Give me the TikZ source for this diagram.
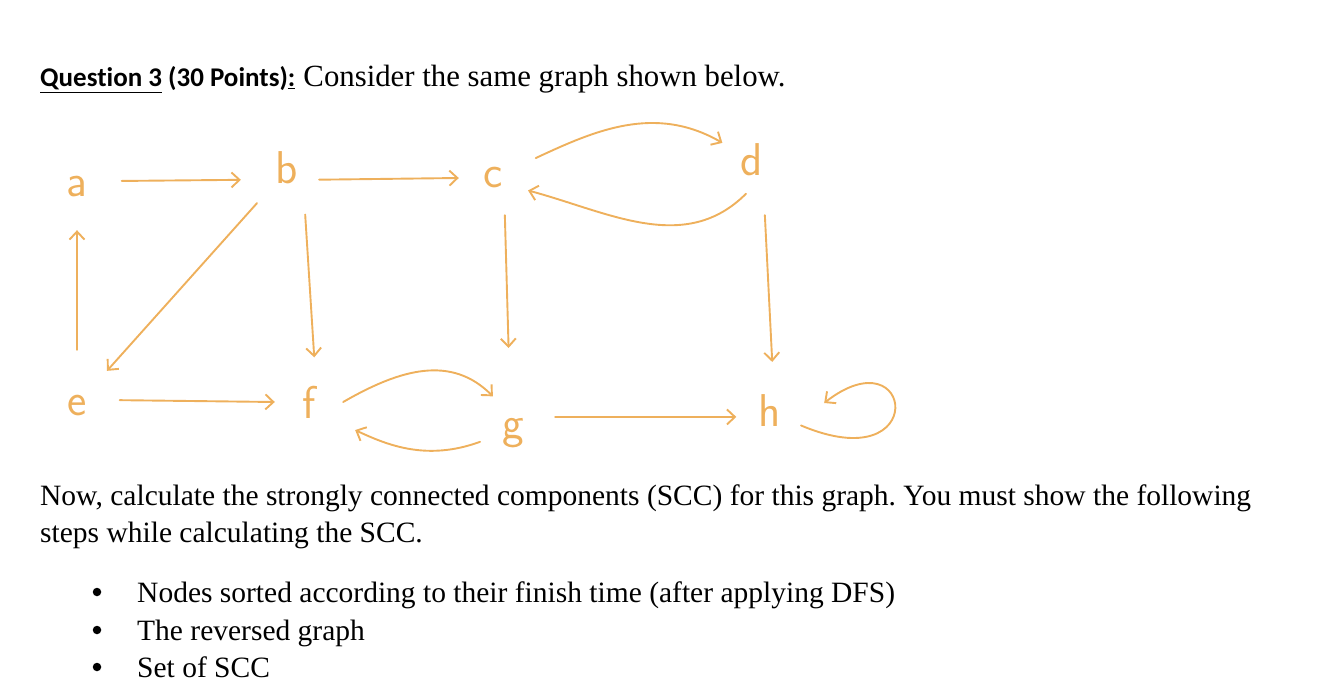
\documentclass[tikz,border=0pt]{standalone}
\usepackage{fontspec}
\setmainfont{Liberation Serif}
\newfontfamily\titlefont[Ligatures=NoCommon]{Carlito}
\usetikzlibrary{arrows.meta}
\definecolor{pen}{RGB}{238,176,92}
\frenchspacing

\begin{document}
\begin{tikzpicture}[x=1pt,y=1pt,
  letter/.style={circle,inner sep=0pt,minimum size=68pt,text=pen,
    font=\sffamily\fontsize{46}{46}\selectfont},
  stroke/.style={draw=pen,line width=1.9pt,line cap=round,
    -{Straight Barb[length=8pt,width=15pt]}},
  body/.style={anchor=base west,inner sep=0pt,font=\fontsize{29.5}{37}\selectfont},
  dot/.style={circle,fill=black,inner sep=0pt,minimum size=8.5pt}]
\useasboundingbox (0,0) rectangle (1320,-692);
% heading
\node[body,font=\titlefont\bfseries\fontsize{27}{32}\selectfont] (head) at (40,-87)
  {\underline{Question 3} (30 Points)\underline{:}};
\node[body,font=\fontsize{30.8}{37}\selectfont] (ask) at (head.base east) {\ Consider the same graph shown below.};
% letters
\node[letter] (a) at (77,-187) {a};
\node[letter] (b) at (287,-168) {b};
\node[letter] (c) at (493,-178) {c};
\node[letter] (d) at (752,-160) {d};
\node[letter] (e) at (77,-406) {e};
\node[letter] (f) at (309,-402) {f};
\node[letter] (g) at (513,-433) {g};
\node[letter] (h) at (770,-411) {h};
% edges
\draw[stroke,shorten <=11pt,shorten >=14pt] (a.10) -- (b.200);
\draw[stroke] (b.-20) -- (c.west);
\draw[stroke,shorten <=22pt,shorten >=9pt] (e.north) -- (a.south);
\draw[stroke,shorten <=12pt,shorten >=12pt] (b.230) -- (e.50);
\draw[stroke,shorten <=17pt,shorten >=11pt] (b.-60) -- (f.80);
\draw[stroke,shorten <=9pt] (e.10) -- (f.west);
\draw[stroke,shorten >=8pt] (f.east) to[out=30,in=135,looseness=1.1] (g.115);
\draw[stroke,shorten >=20pt] (g.195) to[out=200,in=-25] (f.-35);
\draw[stroke,shorten <=5pt,shorten >=51pt] (c.-70) -- (g.95);
\draw[stroke,shorten <=23pt,shorten >=15pt] (d.-70) -- (h.85);
\draw[stroke,shorten <=8pt] (g.east |- h.190) -- (h.190);
\draw[stroke,shorten <=13pt] (c.25) to[out=25,in=150] (d.150);
\draw[stroke,shorten >=3pt] (d.-100) to[out=225,in=-15] (c.-20);
\draw[stroke] (h.-25) .. controls +(130,-55) and +(90,70) .. ([shift={(20,8)}]h.east);
% text below
\node[body] (line1) at (40,-505)
  {Now, calculate the strongly connected components (SCC) for this graph. You must show the following};
\node[body] (line2) at (40,-542) {steps while calculating the SCC.};
\foreach \y/\t [count=\i] in {602/Nodes sorted according to their finish time (after applying DFS),
    640/The reversed graph, 677/Set of SCC} {
  \node[dot] (dot\i) at (97,-\y+10) {};
  \node[body] (item\i) at (137,-\y) {\t};
}
\end{tikzpicture}
\end{document}
